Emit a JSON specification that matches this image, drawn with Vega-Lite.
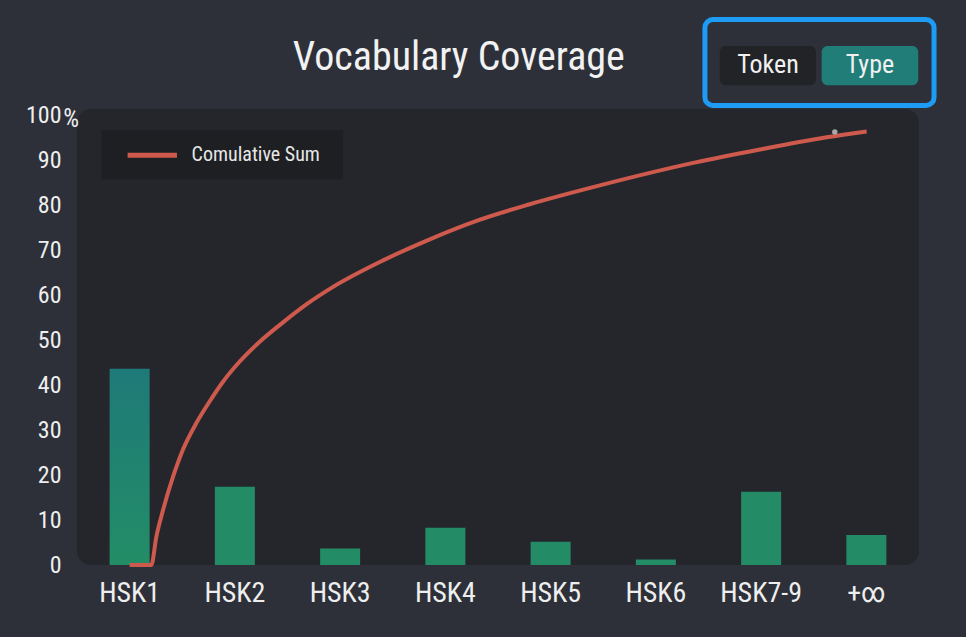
{
  "$schema": "https://vega.github.io/schema/vega-lite/v6.json",
  "width": 842,
  "height": 456,
  "autosize": {"type": "none"},
  "padding": {"left": 77, "top": 109, "right": 47, "bottom": 72},
  "background": "#2d3039",
  "config": {
    "font": "Roboto Condensed, Liberation Sans Narrow, Roboto",
    "view": {"fill": "#25262c", "stroke": null, "cornerRadius": 14}
  },
  "datasets": {
    "bars": [
      {"level": "HSK1", "share": 43.7},
      {"level": "HSK2", "share": 17.4},
      {"level": "HSK3", "share": 3.7},
      {"level": "HSK4", "share": 8.3},
      {"level": "HSK5", "share": 5.2},
      {"level": "HSK6", "share": 1.2},
      {"level": "HSK7-9", "share": 16.3},
      {"level": "+∞", "share": 6.7}
    ],
    "curve": [
      {"pos": 0.0, "cum": 0},
      {"pos": 0.206, "cum": 0},
      {"pos": 0.254, "cum": 6.3},
      {"pos": 0.317, "cum": 12.2},
      {"pos": 0.412, "cum": 19.6},
      {"pos": 0.507, "cum": 25.7},
      {"pos": 0.634, "cum": 31.6},
      {"pos": 0.76, "cum": 36.4},
      {"pos": 0.887, "cum": 40.8},
      {"pos": 1.046, "cum": 45.3},
      {"pos": 1.236, "cum": 49.7},
      {"pos": 1.457, "cum": 54.0},
      {"pos": 1.679, "cum": 58.0},
      {"pos": 1.933, "cum": 61.9},
      {"pos": 2.408, "cum": 67.8},
      {"pos": 2.852, "cum": 72.5},
      {"pos": 3.296, "cum": 76.6},
      {"pos": 3.802, "cum": 80.3},
      {"pos": 4.468, "cum": 84.5},
      {"pos": 5.355, "cum": 89.5},
      {"pos": 5.989, "cum": 92.5},
      {"pos": 6.623, "cum": 95.2},
      {"pos": 7.003, "cum": 96.5}
    ]
  },
  "layer": [
    {
      "data": {"name": "bars"},
      "mark": {"type": "bar"},
      "encoding": {
        "x": {
          "field": "level", "type": "nominal", "sort": null,
          "scale": {"paddingInner": 0.62, "paddingOuter": 0.31},
          "axis": {"title": null, "labelAngle": 0, "ticks": false, "domain": false, "grid": false,
                   "labelFontSize": 28, "labelColor": "#eeeeee", "labelPadding": 14}
        },
        "y": {
          "field": "share", "type": "quantitative",
          "scale": {"domain": [0, 101.5], "nice": false},
          "axis": {"title": null, "values": [0,10,20,30,40,50,60,70,80,90,100], "ticks": false, "domain": false, "grid": false,
                   "labelFontSize": 24, "labelColor": "#eeeeee", "labelPadding": 16}
        },
        "fill": {
          "condition": {
            "test": "datum.level === 'HSK1'",
            "value": {"gradient": "linear", "x1": 0, "y1": 0, "x2": 0, "y2": 1,
                      "stops": [{"offset": 0, "color": "#1e7a79"}, {"offset": 1, "color": "#238d66"}]}
          },
          "value": "#238c67"
        }
      }
    },
    {
      "layer": [
        {
          "data": {"name": "curve"},
          "mark": {"type": "line", "color": "#cd5a4c", "strokeWidth": 4, "interpolate": "monotone"},
          "encoding": {
            "x": {"field": "pos", "type": "quantitative", "scale": {"domain": [-0.5, 7.5], "nice": false, "zero": false}, "axis": null},
            "y": {"field": "cum", "type": "quantitative", "scale": {"domain": [0, 101.5], "nice": false}}
          }
        },
        {
          "data": {"values": [{}]},
          "mark": {"type": "point", "filled": true, "color": "#a8a8a8", "size": 30, "opacity": 1},
          "encoding": {
            "x": {"datum": 6.7, "type": "quantitative"},
            "y": {"datum": 96.4, "type": "quantitative"}
          }
        },
        {
          "data": {"values": [{}]},
          "mark": {"type": "rect", "fill": "#1e1f23"},
          "encoding": {
            "x": {"datum": -0.269, "type": "quantitative"},
            "x2": {"datum": 2.028},
            "y": {"datum": 96.8, "type": "quantitative"},
            "y2": {"datum": 85.8}
          }
        },
        {
          "data": {"values": [{}]},
          "mark": {"type": "rule", "color": "#cd5a4c", "strokeWidth": 5},
          "encoding": {
            "x": {"datum": -0.019, "type": "quantitative"},
            "x2": {"datum": 0.45},
            "y": {"datum": 91.2, "type": "quantitative"}
          }
        },
        {
          "data": {"values": [{}]},
          "mark": {"type": "text", "text": "Comulative Sum", "align": "left", "baseline": "middle", "fontSize": 20, "color": "#e6e6e6"},
          "encoding": {
            "x": {"datum": 0.589, "type": "quantitative"},
            "y": {"datum": 91.2, "type": "quantitative"}
          }
        },
        {
          "data": {"values": [{}]},
          "mark": {"type": "text", "text": "%", "align": "center", "baseline": "middle", "fontSize": 25, "color": "#eeeeee"},
          "encoding": {
            "x": {"datum": -0.556, "type": "quantitative"},
            "y": {"datum": 99.2, "type": "quantitative"}
          }
        },
        {
          "data": {"values": [{}]},
          "mark": {"type": "text", "text": "Vocabulary Coverage", "align": "center", "baseline": "middle", "fontSize": 40, "color": "#f2f2f2"},
          "encoding": {
            "x": {"datum": 3.127, "type": "quantitative"},
            "y": {"datum": 112.8, "type": "quantitative"}
          }
        },
        {
          "data": {"values": [{}]},
          "mark": {"type": "rect", "fill": null, "stroke": "#1e9bf5", "strokeWidth": 5, "cornerRadius": 8},
          "encoding": {
            "x": {"datum": 5.466, "type": "quantitative"},
            "x2": {"datum": 7.643},
            "y": {"datum": 121.4, "type": "quantitative"},
            "y2": {"datum": 102.3}
          }
        },
        {
          "data": {"values": [{}]},
          "mark": {"type": "rect", "fill": "#222327", "cornerRadius": 6},
          "encoding": {
            "x": {"datum": 5.608, "type": "quantitative"},
            "x2": {"datum": 6.521},
            "y": {"datum": 115.5, "type": "quantitative"},
            "y2": {"datum": 106.8}
          }
        },
        {
          "data": {"values": [{}]},
          "mark": {"type": "rect", "fill": "#217d78", "cornerRadius": 6},
          "encoding": {
            "x": {"datum": 6.575, "type": "quantitative"},
            "x2": {"datum": 7.493},
            "y": {"datum": 115.5, "type": "quantitative"},
            "y2": {"datum": 106.8}
          }
        },
        {
          "data": {"values": [{}]},
          "mark": {"type": "text", "text": "Token", "align": "center", "baseline": "middle", "fontSize": 26, "color": "#f0f0f0"},
          "encoding": {
            "x": {"datum": 6.065, "type": "quantitative"},
            "y": {"datum": 111.2, "type": "quantitative"}
          }
        },
        {
          "data": {"values": [{}]},
          "mark": {"type": "text", "text": "Type", "align": "center", "baseline": "middle", "fontSize": 26, "color": "#f0f0f0"},
          "encoding": {
            "x": {"datum": 7.034, "type": "quantitative"},
            "y": {"datum": 111.2, "type": "quantitative"}
          }
        }
      ]
    }
  ],
  "resolve": {"scale": {"x": "independent"}}
}
